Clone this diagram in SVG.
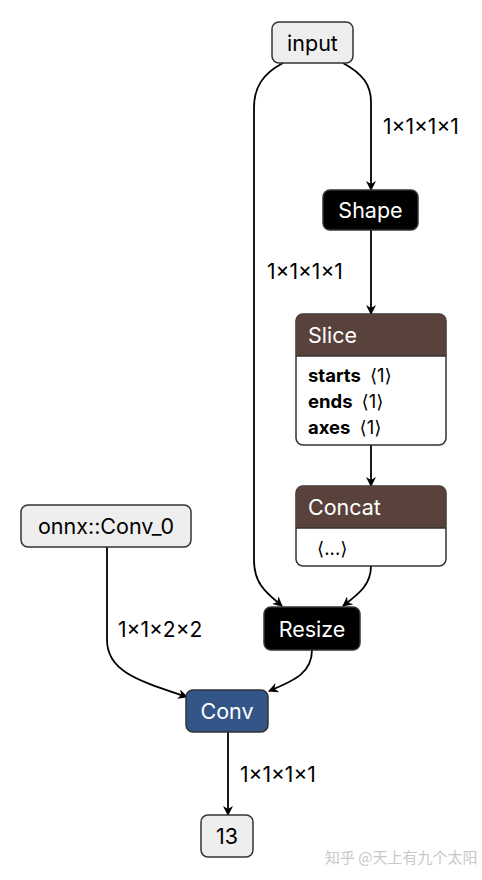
<svg xmlns="http://www.w3.org/2000/svg" width="482" height="880" viewBox="0 0 482 880">
<style>
text{font-family:Inter,"Liberation Sans","DejaVu Sans",sans-serif;}
.io{fill:#eeeeee;stroke:#333;stroke-width:1.5;}
.blk{fill:#000;stroke:#333;stroke-width:1.5;}
.conv{fill:#335588;stroke:#333;stroke-width:1.5;}
.hdr{fill:#59423b;}
.body{fill:#fff;stroke:#333;stroke-width:1.5;}
.t{font-size:21.5px;fill:#000;}
.tw{font-size:21.5px;fill:#fff;}
.attr{font-size:18.5px;fill:#000;}
.lbl{font-size:21px;fill:#000;}
.e{fill:none;stroke:#000;stroke-width:1.8;marker-end:url(#arr);}
.wm{font-family:"Noto Sans CJK SC",sans-serif;font-size:15px;fill:#c8c8c8;}
</style>
<defs>
<marker id="arr" viewBox="0 0 10 10" refX="9" refY="5" markerWidth="10" markerHeight="10" markerUnits="userSpaceOnUse" orient="auto">
<path d="M0,0 L10,5 L0,10 L3,5 z" fill="#000"/>
</marker>
</defs>
<g id="edges">
<path class="e" d="M343,63 C363,74 371,85 371,102 L371,190"/>
<path class="e" d="M283,63 C262,74 254,88 254,108 L254,560 C254,585 268,594 282,606"/>
<path class="e" d="M371,230 L371,314"/>
<path class="e" d="M371,445 L371,486"/>
<path class="e" d="M371,566 C371,586 357,595 343,606"/>
<path class="e" d="M107,547 L107,640 C107,672 140,681 187,697"/>
<path class="e" d="M312,650 C312,672 296,680 269,691"/>
<path class="e" d="M228,732 L228,815"/>
</g>
<g id="edge-labels">
<text class="lbl" x="383" y="134">1×1×1×1</text>
<text class="lbl" x="267" y="279">1×1×1×1</text>
<text class="lbl" x="118" y="637">1×1×2×2</text>
<text class="lbl" x="240" y="782">1×1×1×1</text>
</g>
<g id="node-input">
<rect class="io" x="272" y="22" width="81" height="41" rx="7"/>
<text class="t" x="312.5" y="50.5" text-anchor="middle">input</text>
</g>
<g id="node-shape">
<rect class="blk" x="323" y="190" width="95" height="40" rx="7"/>
<text class="tw" x="370.5" y="217.5" text-anchor="middle">Shape</text>
</g>
<g id="node-slice">
<rect class="body" x="296" y="314" width="150" height="131" rx="7"/>
<path class="hdr" d="M296,356 L296,321 Q296,314 303,314 L439,314 Q446,314 446,321 L446,356 Z"/>
<line x1="296" y1="356" x2="446" y2="356" stroke="#333" stroke-width="1.5"/>
<text class="tw" x="308" y="343">Slice</text>
<text class="attr" x="308" y="382"><tspan font-weight="bold">starts</tspan><tspan dx="9">⟨1⟩</tspan></text>
<text class="attr" x="308" y="408"><tspan font-weight="bold">ends</tspan><tspan dx="9">⟨1⟩</tspan></text>
<text class="attr" x="308" y="434"><tspan font-weight="bold">axes</tspan><tspan dx="9">⟨1⟩</tspan></text>
</g>
<g id="node-concat">
<rect class="body" x="296" y="486" width="150" height="80" rx="7"/>
<path class="hdr" d="M296,528 L296,493 Q296,486 303,486 L439,486 Q446,486 446,493 L446,528 Z"/>
<line x1="296" y1="528" x2="446" y2="528" stroke="#333" stroke-width="1.5"/>
<text class="tw" x="308" y="515">Concat</text>
<text class="attr" x="317" y="555">⟨...⟩</text>
</g>
<g id="node-onnx-conv0">
<rect class="io" x="21" y="505" width="170" height="42" rx="7"/>
<text class="t" x="106" y="533.5" text-anchor="middle">onnx::Conv_0</text>
</g>
<g id="node-resize">
<rect class="blk" x="264" y="607" width="96" height="43" rx="7"/>
<text class="tw" x="312" y="636.5" text-anchor="middle">Resize</text>
</g>
<g id="node-conv">
<rect class="conv" x="186" y="690" width="82" height="42" rx="7"/>
<text class="tw" x="227" y="719" text-anchor="middle">Conv</text>
</g>
<g id="node-13">
<rect class="io" x="201" y="815" width="52" height="42" rx="7"/>
<text class="t" x="227" y="844" text-anchor="middle">13</text>
</g>
<text class="wm" x="325" y="863">知乎 @天上有九个太阳</text>
</svg>
